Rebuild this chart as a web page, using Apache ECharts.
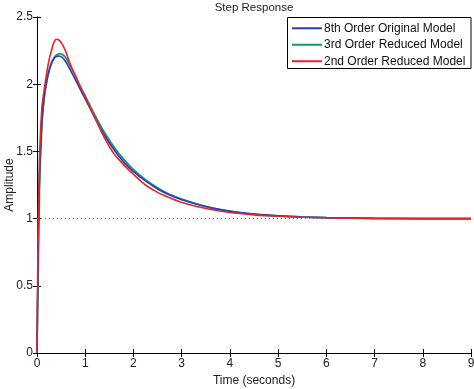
<!DOCTYPE html>
<html>
<head>
<meta charset="utf-8">
<script src="https://cdn.jsdelivr.net/npm/echarts@6/dist/echarts.min.js"></script>
<style>html,body{margin:0;padding:0;background:#fff}#c{width:474px;height:389px}</style>
</head>
<body>
<div id="c"></div>
<script>
var seriesNames = ['8th Order Original Model', '3rd Order Reduced Model', '2nd Order Reduced Model'];
var time = [0, 0.02, 0.05, 0.1, 0.15, 0.2, 0.25, 0.3, 0.35, 0.4, 0.45, 0.5, 0.55, 0.6, 0.7, 0.8, 0.9, 1.0, 1.2, 1.4, 1.6, 1.8, 2.0, 2.25, 2.5, 2.75, 3.0, 3.5, 4.0, 4.5, 5.0, 5.5, 6.0, 7.0, 8.0, 9.0];
var original8 = [0, 0.6, 1.3, 1.72, 1.91, 2.02, 2.10, 2.155, 2.19, 2.205, 2.21, 2.205, 2.19, 2.165, 2.10, 2.03, 1.96, 1.89, 1.75, 1.62, 1.51, 1.42, 1.35, 1.28, 1.22, 1.175, 1.14, 1.09, 1.055, 1.033, 1.02, 1.012, 1.007, 1.002, 1.0, 1.0];
var reduced3 = [0, 0.5, 1.2, 1.68, 1.90, 2.02, 2.10, 2.16, 2.195, 2.215, 2.225, 2.225, 2.215, 2.195, 2.13, 2.06, 1.98, 1.91, 1.77, 1.64, 1.53, 1.44, 1.365, 1.29, 1.23, 1.18, 1.145, 1.09, 1.055, 1.033, 1.02, 1.012, 1.007, 1.002, 1.0, 1.0];
var reduced2 = [0, 0.8, 1.42, 1.82, 1.96, 2.08, 2.18, 2.25, 2.31, 2.335, 2.33, 2.31, 2.28, 2.24, 2.14, 2.06, 1.98, 1.91, 1.75, 1.60, 1.48, 1.40, 1.33, 1.25, 1.195, 1.155, 1.12, 1.075, 1.045, 1.028, 1.017, 1.01, 1.006, 1.002, 1.0, 1.0];
var steadyState = 1;
var xTicks = ['0', '1', '2', '3', '4', '5', '6', '7', '8', '9'];
var yTicks = ['0', '0.5', '1', '1.5', '2', '2.5'];

function pairs(ys) { return time.map(function (t, i) { return [t, ys[i]]; }); }

var colors = ['#2a3bc4', '#1a9a5a', '#e6222c'];
var font = 'Liberation Sans, Arial, sans-serif';
var chart = echarts.init(document.getElementById('c'));
var axisLine = { show: true, lineStyle: { color: '#000', width: 1 } };
var tick = { show: true, inside: true, length: 4, lineStyle: { color: '#000' } };
var lbl = { color: '#222', fontFamily: font, fontSize: 12 };
function curve(i, ys, w, z) {
  return { type: 'line', name: seriesNames[i], data: pairs(ys), showSymbol: false, smooth: 0.3,
    itemStyle: { color: colors[i] }, lineStyle: { width: w, color: colors[i] }, z: z };
}
chart.setOption({
  animation: false,
  title: { text: 'Step Response', left: 249, top: -3, textAlign: 'center',
    textStyle: { fontFamily: font, fontSize: 11.5, fontWeight: 'normal', color: '#222' } },
  grid: { left: 37, top: 17, width: 434, height: 336, containLabel: false, outerBoundsMode: 'none' },
  legend: {
    orient: 'vertical', left: 292, top: 21, padding: 0, itemWidth: 30, itemHeight: 2, itemGap: 2,
    icon: 'rect', data: seriesNames,
    textStyle: { fontFamily: font, fontSize: 12, color: '#111', lineHeight: 14.5, padding: [0, 0, 0, -3] }
  },
  graphic: [{ type: 'rect', shape: { x: 287.5, y: 17.5, width: 183.5, height: 51 },
    style: { fill: 'none', stroke: '#000', lineWidth: 1 }, z: 100 }],
  xAxis: [{
    type: 'value', min: 0, max: 9, interval: 1,
    name: 'Time (seconds)', nameLocation: 'middle', nameGap: 22, nameMoveOverlap: false,
    nameTextStyle: { fontFamily: font, fontSize: 12, color: '#222' },
    axisLine: axisLine, axisTick: tick, splitLine: { show: false },
    axisLabel: Object.assign({ margin: 5, formatter: function (v) { return xTicks[Math.round(v)]; } }, lbl)
  }, {
    type: 'value', position: 'top', min: 0, max: 9, interval: 1,
    axisLine: axisLine, axisTick: tick, splitLine: { show: false }, axisLabel: { show: false }
  }],
  yAxis: [{
    type: 'value', min: 0, max: 2.5, interval: 0.5,
    name: 'Amplitude', nameLocation: 'middle', nameGap: 21, nameMoveOverlap: false,
    nameTextStyle: { fontFamily: font, fontSize: 12, color: '#222' },
    axisLine: axisLine, axisTick: tick, splitLine: { show: false },
    axisLabel: Object.assign({ margin: 4, formatter: function (v) { return yTicks[Math.round(v * 2)]; } }, lbl)
  }, {
    type: 'value', position: 'right', min: 0, max: 2.5, interval: 0.5,
    axisLine: axisLine, axisTick: tick, splitLine: { show: false }, axisLabel: { show: false }
  }],
  series: [{
    type: 'line', name: 'ss', data: [[0, steadyState], [9, steadyState]], showSymbol: false, silent: true,
    itemStyle: { color: '#777' }, lineStyle: { color: '#777', width: 1, type: [1, 3] }, z: 1
  },
    curve(0, original8, 1.6, 3),
    curve(1, reduced3, 1.8, 2),
    curve(2, reduced2, 1.6, 4)
  ]
});
</script>
</body>
</html>
